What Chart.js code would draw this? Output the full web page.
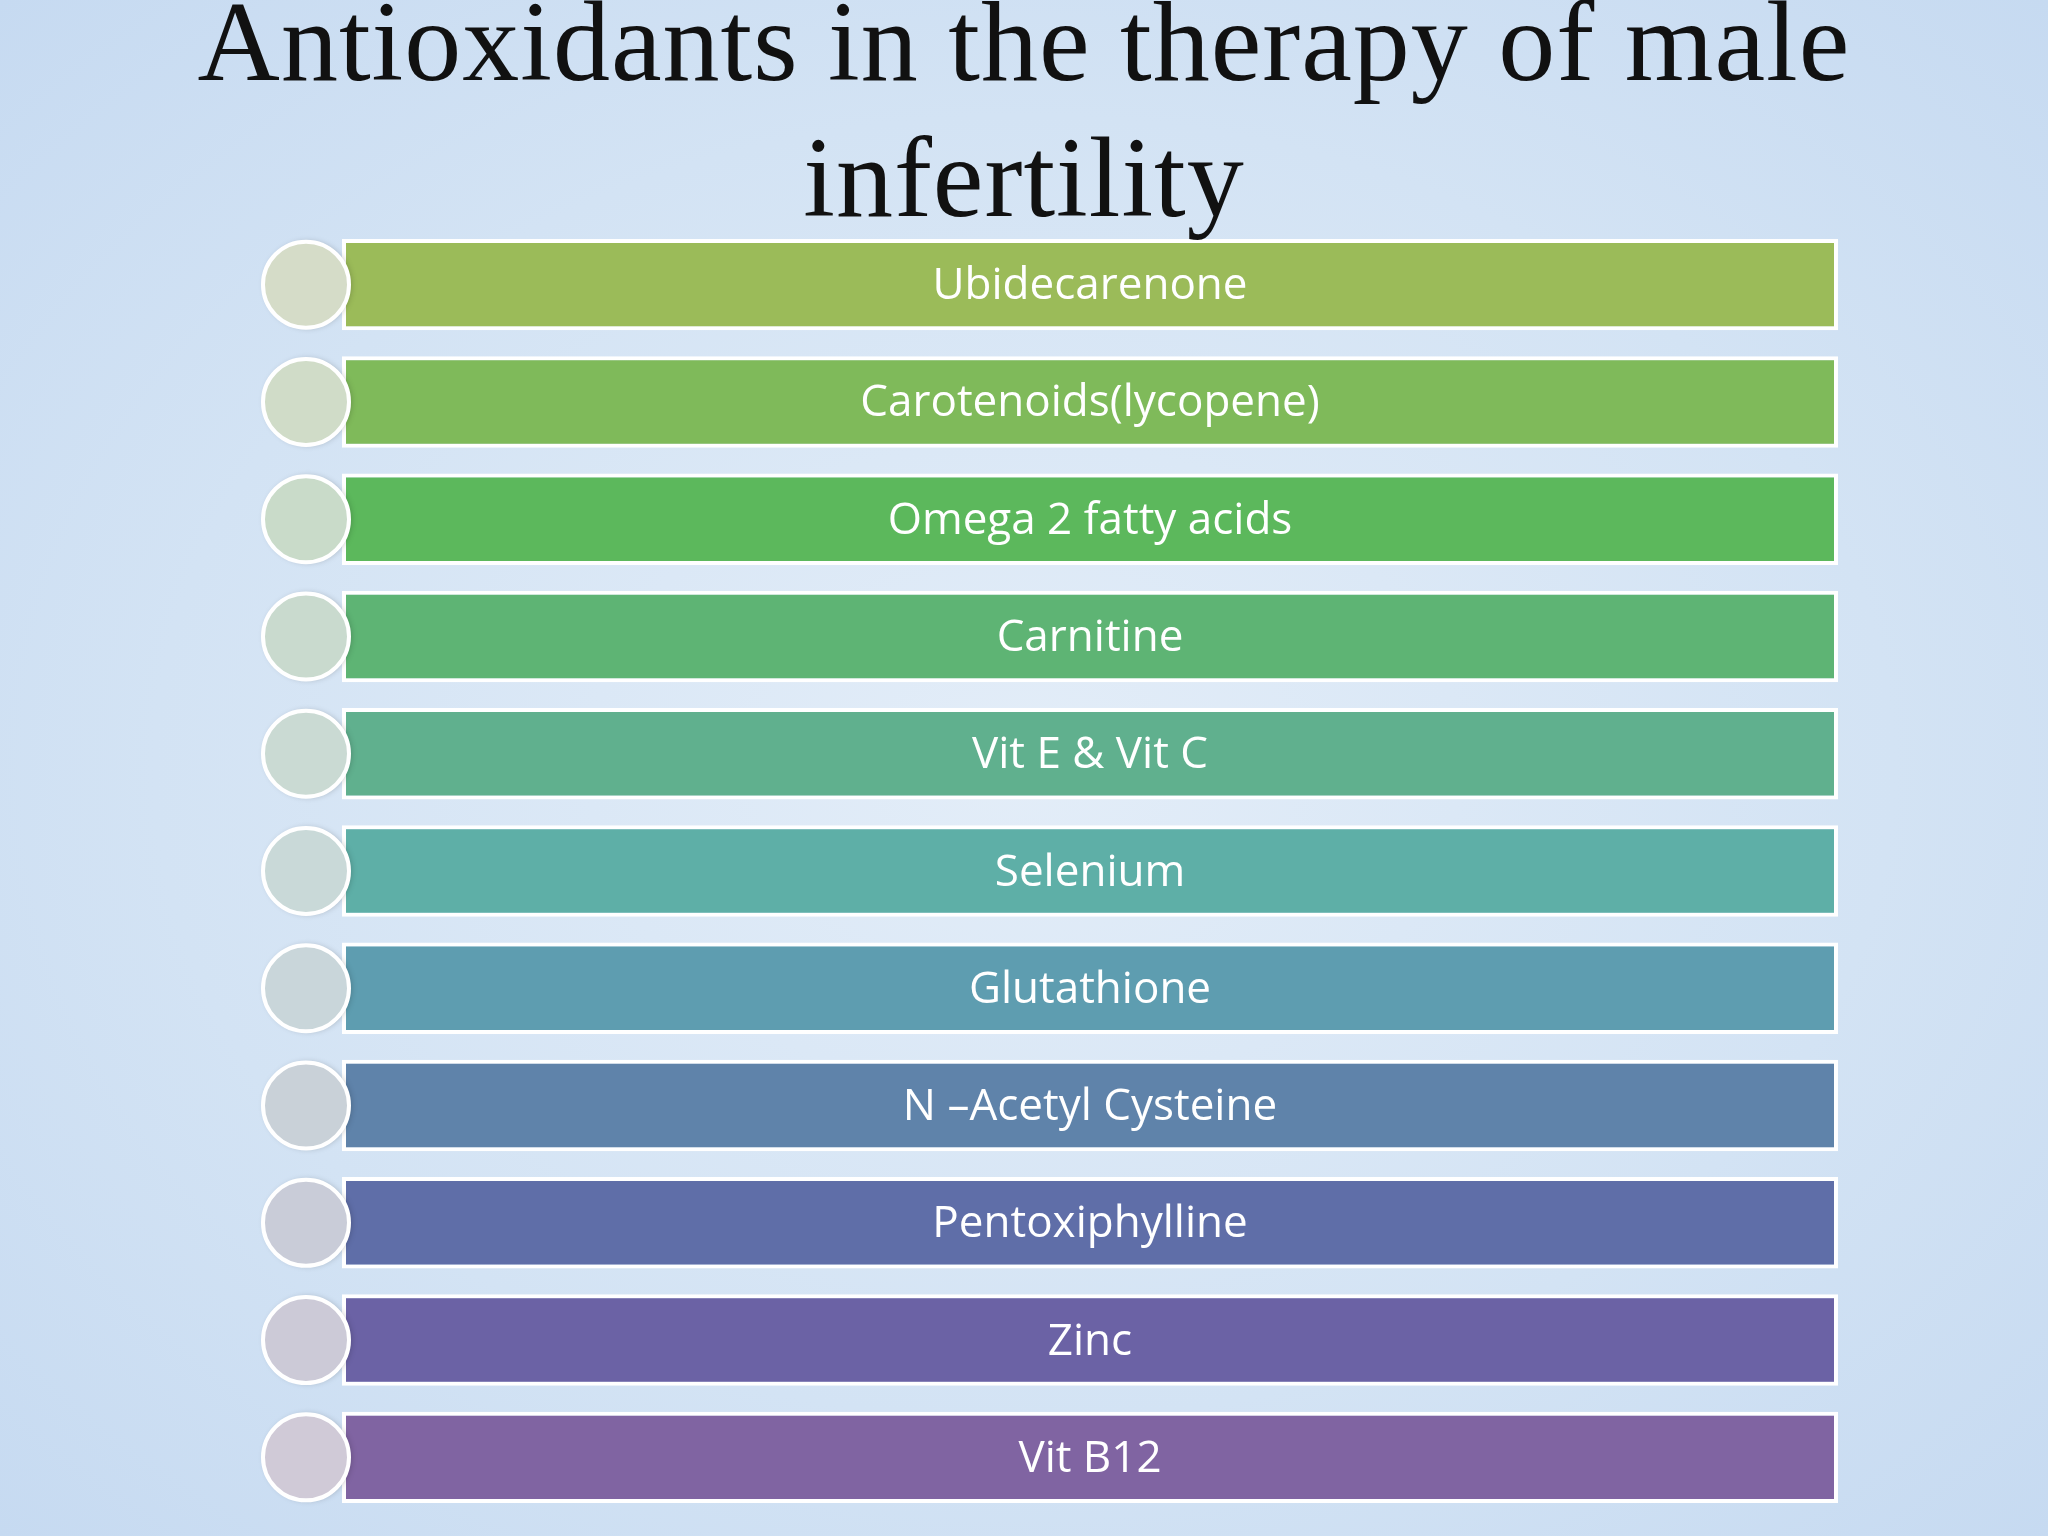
<!DOCTYPE html>
<html>
<head>
<meta charset="utf-8">
<script src="https://cdn.jsdelivr.net/npm/chart.js@4"></script>
<style>
  html, body { margin: 0; padding: 0; }
  body {
    width: 2048px; height: 1536px; overflow: hidden; position: relative;
    background: radial-gradient(ellipse at center, #e3edf8 0%, #d3e3f4 60%, #c6daf1 100%);
  }
  #title {
    position: absolute; left: 0; top: -26px; width: 2048px; text-align: center;
    font-family: "Liberation Serif", "DejaVu Serif", serif; font-size: 114px;
    line-height: 136px; color: #111; letter-spacing: 1px;
  }
  #wrap { position: absolute; left: 0; top: 0; width: 2048px; height: 1536px; }
</style>
</head>
<body>
<div id="wrap"><canvas id="listChart"></canvas></div>
<div id="title">Antioxidants in the therapy of male<br>infertility</div>
<script>
const items = ['Ubidecarenone', 'Carotenoids(lycopene)', 'Omega 2 fatty acids', 'Carnitine',
  'Vit E & Vit C', 'Selenium', 'Glutathione', 'N \u2013Acetyl Cysteine', 'Pentoxiphylline', 'Zinc', 'Vit B12'];
const barValues = [1, 1, 1, 1, 1, 1, 1, 1, 1, 1, 1];
const barColors = ['#9bbb59', '#7fba5a', '#5cb85c', '#5eb474', '#60b08e', '#5eafa7',
  '#5e9db0', '#5f83aa', '#5f6ea8', '#6b62a5', '#8064a2'];

function tint(hex, f) {
  const n = parseInt(hex.slice(1), 16);
  const r = (n >> 16) & 255, g = (n >> 8) & 255, b = n & 255;
  const m = c => Math.round(c + (228 - c) * f);
  return `rgb(${m(r)},${m(g)},${m(b)})`;
}

const decor = {
  id: 'decor',
  afterDatasetsDraw(chart) {
    const { ctx, scales: { x, y } } = chart;
    const meta = chart.getDatasetMeta(0);
    meta.data.forEach((bar, i) => {
      const cy = y.getPixelForValue(i);
      const cx = x.left - 36;
      ctx.save();
      ctx.shadowColor = 'rgba(0,0,0,0.25)';
      ctx.shadowBlur = 6;
      ctx.shadowOffsetX = 2;
      ctx.beginPath();
      ctx.arc(cx, cy, 43, 0, Math.PI * 2);
      ctx.fillStyle = tint(barColors[i], 0.8);
      ctx.fill();
      ctx.shadowColor = 'transparent';
      ctx.lineWidth = 4;
      ctx.strokeStyle = '#ffffff';
      ctx.stroke();
      ctx.restore();

      ctx.save();
      ctx.fillStyle = '#ffffff';
      ctx.font = '44px "Open Sans", sans-serif';
      ctx.textAlign = 'center';
      ctx.textBaseline = 'middle';
      ctx.fillText(items[i], (x.left + x.right) / 2, cy + 2);
      ctx.restore();
    });
  }
};

new Chart(document.getElementById('listChart').getContext('2d'), {
  type: 'bar',
  data: {
    labels: items,
    datasets: [{
      data: barValues,
      backgroundColor: barColors,
      borderColor: '#ffffff',
      borderWidth: 4,
      borderSkipped: false,
      barPercentage: 0.78,
      categoryPercentage: 1
    }]
  },
  options: {
    indexAxis: 'y',
    responsive: true,
    maintainAspectRatio: false,
    animation: false,
    layout: { padding: { left: 342, right: 210, top: 226, bottom: 20 } },
    plugins: { legend: { display: false }, tooltip: { enabled: false } },
    scales: {
      x: { display: false, min: 0, max: 1 },
      y: { display: false }
    }
  },
  plugins: [decor]
});
</script>
</body>
</html>
